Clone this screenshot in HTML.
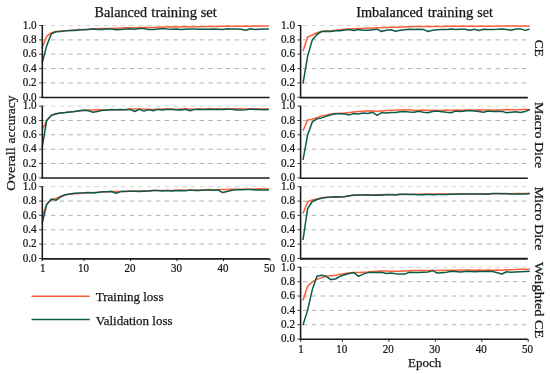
<!DOCTYPE html>
<html lang="en"><head><meta charset="utf-8"><title>Training curves</title>
<style>html,body{margin:0;padding:0;background:#fff}svg{display:block}</style></head>
<body>
<svg width="550" height="374" viewBox="0 0 550 374" font-family="'Liberation Serif', serif" fill="#161616" stroke="#161616" stroke-width="0.25">
<rect width="550" height="374" fill="#fff" stroke="none"/>
<line x1="42.1" y1="82.9" x2="269.2" y2="82.9" stroke="#b2b2b2" stroke-width="1" stroke-dasharray="4.4 4.35"/>
<line x1="42.1" y1="68.6" x2="269.2" y2="68.6" stroke="#b2b2b2" stroke-width="1" stroke-dasharray="4.4 4.35"/>
<line x1="42.1" y1="54.2" x2="269.2" y2="54.2" stroke="#b2b2b2" stroke-width="1" stroke-dasharray="4.4 4.35"/>
<line x1="42.1" y1="39.9" x2="269.2" y2="39.9" stroke="#b2b2b2" stroke-width="1" stroke-dasharray="4.4 4.35"/>
<line x1="42.1" y1="25.5" x2="269.2" y2="25.5" stroke="#d6d6d6" stroke-width="1" stroke-dasharray="4.4 4.35"/>
<polyline points="42.1,48.0 46.7,36.3 51.4,32.7 56.0,31.5 60.6,30.9 65.2,30.8 69.9,30.4 74.5,29.9 79.1,29.6 83.8,29.4 88.4,29.2 93.0,28.8 97.6,28.7 102.3,28.6 106.9,28.6 111.5,28.4 116.1,28.2 120.8,28.0 125.4,27.8 130.0,27.7 134.7,27.7 139.3,27.6 143.9,27.5 148.5,27.5 153.2,27.4 157.8,27.2 162.4,27.1 167.1,27.1 171.7,26.8 176.3,26.9 180.9,26.8 185.6,26.8 190.2,26.8 194.8,26.7 199.5,26.7 204.1,26.5 208.7,26.4 213.3,26.4 218.0,26.5 222.6,26.3 227.2,26.3 231.8,26.2 236.5,26.2 241.1,26.2 245.7,26.1 250.4,26.2 255.0,26.0 259.6,25.9 264.2,26.1 268.9,25.9" fill="none" stroke="#fd6038" stroke-width="1.5" stroke-linejoin="round" stroke-linecap="butt"/>
<polyline points="42.1,63.2 46.7,45.6 51.4,33.8 56.0,31.8 60.6,31.6 65.2,30.8 69.9,30.5 74.5,30.6 79.1,30.0 83.8,29.8 88.4,29.4 93.0,29.0 97.6,29.5 102.3,29.6 106.9,28.8 111.5,29.1 116.1,29.8 120.8,29.4 125.4,29.0 130.0,28.8 134.7,29.2 139.3,28.6 143.9,28.6 148.5,29.4 153.2,29.4 157.8,28.9 162.4,28.6 167.1,29.1 171.7,29.2 176.3,29.1 180.9,29.4 185.6,29.2 190.2,29.1 194.8,29.0 199.5,29.2 204.1,29.3 208.7,29.3 213.3,29.1 218.0,29.2 222.6,29.5 227.2,28.8 231.8,29.0 236.5,28.9 241.1,29.3 245.7,30.2 250.4,28.8 255.0,29.4 259.6,29.2 264.2,28.9 268.9,28.9" fill="none" stroke="#0c5a4c" stroke-width="1.5" stroke-linejoin="round" stroke-linecap="butt"/>
<line x1="42.3" y1="25.0" x2="42.3" y2="98.0" stroke="#1a1a1a" stroke-width="1.55"/>
<line x1="41.5" y1="97.40" x2="269.6" y2="97.40" stroke="#1a1a1a" stroke-width="1.55"/>
<line x1="39.1" y1="97.3" x2="42.3" y2="97.3" stroke="#2a2a2a" stroke-width="0.9"/>
<text transform="translate(36.7,100.5) scale(0.94,1)" font-size="11.9" text-anchor="end">0.0</text>
<line x1="39.1" y1="82.9" x2="42.3" y2="82.9" stroke="#2a2a2a" stroke-width="0.9"/>
<text transform="translate(36.7,86.1) scale(0.94,1)" font-size="11.9" text-anchor="end">0.2</text>
<line x1="39.1" y1="68.6" x2="42.3" y2="68.6" stroke="#2a2a2a" stroke-width="0.9"/>
<text transform="translate(36.7,71.8) scale(0.94,1)" font-size="11.9" text-anchor="end">0.4</text>
<line x1="39.1" y1="54.2" x2="42.3" y2="54.2" stroke="#2a2a2a" stroke-width="0.9"/>
<text transform="translate(36.7,57.4) scale(0.94,1)" font-size="11.9" text-anchor="end">0.6</text>
<line x1="39.1" y1="39.9" x2="42.3" y2="39.9" stroke="#2a2a2a" stroke-width="0.9"/>
<text transform="translate(36.7,43.1) scale(0.94,1)" font-size="11.9" text-anchor="end">0.8</text>
<line x1="39.1" y1="25.5" x2="42.3" y2="25.5" stroke="#2a2a2a" stroke-width="0.9"/>
<text transform="translate(36.7,28.7) scale(0.94,1)" font-size="11.9" text-anchor="end">1.0</text>
<line x1="42.1" y1="163.5" x2="269.2" y2="163.5" stroke="#b2b2b2" stroke-width="1" stroke-dasharray="4.4 4.35"/>
<line x1="42.1" y1="149.2" x2="269.2" y2="149.2" stroke="#b2b2b2" stroke-width="1" stroke-dasharray="4.4 4.35"/>
<line x1="42.1" y1="134.8" x2="269.2" y2="134.8" stroke="#b2b2b2" stroke-width="1" stroke-dasharray="4.4 4.35"/>
<line x1="42.1" y1="120.5" x2="269.2" y2="120.5" stroke="#b2b2b2" stroke-width="1" stroke-dasharray="4.4 4.35"/>
<line x1="42.1" y1="106.1" x2="269.2" y2="106.1" stroke="#d6d6d6" stroke-width="1" stroke-dasharray="4.4 4.35"/>
<polyline points="42.1,129.8 46.7,120.5 51.4,115.6 56.0,113.8 60.6,113.1 65.2,112.6 69.9,111.9 74.5,111.5 79.1,111.0 83.8,110.3 88.4,109.9 93.0,109.9 97.6,109.8 102.3,110.0 106.9,109.7 111.5,109.7 116.1,109.7 120.8,109.7 125.4,109.6 130.0,109.1 134.7,109.1 139.3,109.1 143.9,109.1 148.5,109.4 153.2,109.4 157.8,109.2 162.4,109.1 167.1,109.0 171.7,109.0 176.3,109.4 180.9,109.1 185.6,109.0 190.2,109.1 194.8,109.3 199.5,109.1 204.1,109.3 208.7,108.8 213.3,108.8 218.0,109.0 222.6,109.1 227.2,108.7 231.8,108.9 236.5,108.7 241.1,108.7 245.7,108.9 250.4,108.9 255.0,108.8 259.6,108.9 264.2,109.0 268.9,108.9" fill="none" stroke="#fd6038" stroke-width="1.5" stroke-linejoin="round" stroke-linecap="butt"/>
<polyline points="42.1,147.7 46.7,120.5 51.4,115.3 56.0,113.8 60.6,112.9 65.2,112.6 69.9,111.9 74.5,111.5 79.1,110.8 83.8,110.3 88.4,110.7 93.0,112.2 97.6,111.5 102.3,110.3 106.9,110.2 111.5,109.5 116.1,109.8 120.8,109.4 125.4,109.7 130.0,109.4 134.7,111.5 139.3,109.4 143.9,111.1 148.5,109.5 153.2,110.8 157.8,109.4 162.4,109.9 167.1,109.3 171.7,109.5 176.3,109.7 180.9,110.0 185.6,109.2 190.2,110.8 194.8,109.4 199.5,109.2 204.1,109.4 208.7,109.2 213.3,109.6 218.0,109.3 222.6,109.6 227.2,109.2 231.8,109.2 236.5,109.9 241.1,109.9 245.7,109.8 250.4,109.1 255.0,109.6 259.6,109.4 264.2,109.7 268.9,109.5" fill="none" stroke="#0c5a4c" stroke-width="1.5" stroke-linejoin="round" stroke-linecap="butt"/>
<line x1="42.3" y1="105.6" x2="42.3" y2="178.6" stroke="#1a1a1a" stroke-width="1.55"/>
<line x1="41.5" y1="177.90" x2="269.6" y2="177.90" stroke="#1a1a1a" stroke-width="1.55"/>
<line x1="39.1" y1="177.9" x2="42.3" y2="177.9" stroke="#2a2a2a" stroke-width="0.9"/>
<text transform="translate(36.7,181.1) scale(0.94,1)" font-size="11.9" text-anchor="end">0.0</text>
<line x1="39.1" y1="163.5" x2="42.3" y2="163.5" stroke="#2a2a2a" stroke-width="0.9"/>
<text transform="translate(36.7,166.7) scale(0.94,1)" font-size="11.9" text-anchor="end">0.2</text>
<line x1="39.1" y1="149.2" x2="42.3" y2="149.2" stroke="#2a2a2a" stroke-width="0.9"/>
<text transform="translate(36.7,152.4) scale(0.94,1)" font-size="11.9" text-anchor="end">0.4</text>
<line x1="39.1" y1="134.8" x2="42.3" y2="134.8" stroke="#2a2a2a" stroke-width="0.9"/>
<text transform="translate(36.7,138.0) scale(0.94,1)" font-size="11.9" text-anchor="end">0.6</text>
<line x1="39.1" y1="120.5" x2="42.3" y2="120.5" stroke="#2a2a2a" stroke-width="0.9"/>
<text transform="translate(36.7,123.7) scale(0.94,1)" font-size="11.9" text-anchor="end">0.8</text>
<line x1="39.1" y1="106.1" x2="42.3" y2="106.1" stroke="#2a2a2a" stroke-width="0.9"/>
<text transform="translate(36.7,109.3) scale(0.94,1)" font-size="11.9" text-anchor="end">1.0</text>
<line x1="42.1" y1="244.1" x2="269.2" y2="244.1" stroke="#b2b2b2" stroke-width="1" stroke-dasharray="4.4 4.35"/>
<line x1="42.1" y1="229.8" x2="269.2" y2="229.8" stroke="#b2b2b2" stroke-width="1" stroke-dasharray="4.4 4.35"/>
<line x1="42.1" y1="215.4" x2="269.2" y2="215.4" stroke="#b2b2b2" stroke-width="1" stroke-dasharray="4.4 4.35"/>
<line x1="42.1" y1="201.1" x2="269.2" y2="201.1" stroke="#b2b2b2" stroke-width="1" stroke-dasharray="4.4 4.35"/>
<line x1="42.1" y1="186.7" x2="269.2" y2="186.7" stroke="#d6d6d6" stroke-width="1" stroke-dasharray="4.4 4.35"/>
<polyline points="42.1,216.9 46.7,203.9 51.4,200.0 56.0,198.5 60.6,196.5 65.2,194.8 69.9,194.3 74.5,193.8 79.1,193.6 83.8,192.9 88.4,192.8 93.0,192.4 97.6,192.3 102.3,191.9 106.9,191.8 111.5,191.5 116.1,191.4 120.8,191.4 125.4,191.3 130.0,191.1 134.7,191.2 139.3,190.9 143.9,190.7 148.5,190.9 153.2,190.5 157.8,190.5 162.4,190.4 167.1,190.5 171.7,190.5 176.3,190.2 180.9,190.1 185.6,190.2 190.2,190.2 194.8,190.1 199.5,189.9 204.1,189.9 208.7,189.6 213.3,189.7 218.0,189.8 222.6,189.5 227.2,189.6 231.8,189.2 236.5,189.2 241.1,189.3 245.7,189.2 250.4,189.1 255.0,188.9 259.6,188.8 264.2,189.1 268.9,188.9" fill="none" stroke="#fd6038" stroke-width="1.5" stroke-linejoin="round" stroke-linecap="butt"/>
<polyline points="42.1,223.3 46.7,204.6 51.4,198.9 56.0,200.3 60.6,196.8 65.2,194.8 69.9,194.0 74.5,193.3 79.1,193.0 83.8,192.8 88.4,192.5 93.0,192.9 97.6,192.4 102.3,191.8 106.9,191.8 111.5,191.5 116.1,193.2 120.8,191.6 125.4,191.6 130.0,191.3 134.7,191.2 139.3,191.5 143.9,191.2 148.5,191.1 153.2,190.5 157.8,190.6 162.4,190.9 167.1,190.4 171.7,190.9 176.3,190.5 180.9,190.8 185.6,190.8 190.2,190.1 194.8,190.6 199.5,190.5 204.1,189.9 208.7,190.0 213.3,190.3 218.0,189.8 222.6,192.6 227.2,191.4 231.8,190.2 236.5,189.7 241.1,189.8 245.7,189.6 250.4,189.6 255.0,190.0 259.6,189.9 264.2,190.0 268.9,190.0" fill="none" stroke="#0c5a4c" stroke-width="1.5" stroke-linejoin="round" stroke-linecap="butt"/>
<line x1="42.3" y1="186.2" x2="42.3" y2="259.2" stroke="#1a1a1a" stroke-width="1.55"/>
<line x1="41.5" y1="258.75" x2="269.6" y2="258.75" stroke="#1a1a1a" stroke-width="1.75"/>
<line x1="39.1" y1="258.5" x2="42.3" y2="258.5" stroke="#2a2a2a" stroke-width="0.9"/>
<text transform="translate(36.7,261.7) scale(0.94,1)" font-size="11.9" text-anchor="end">0.0</text>
<line x1="39.1" y1="244.1" x2="42.3" y2="244.1" stroke="#2a2a2a" stroke-width="0.9"/>
<text transform="translate(36.7,247.3) scale(0.94,1)" font-size="11.9" text-anchor="end">0.2</text>
<line x1="39.1" y1="229.8" x2="42.3" y2="229.8" stroke="#2a2a2a" stroke-width="0.9"/>
<text transform="translate(36.7,233.0) scale(0.94,1)" font-size="11.9" text-anchor="end">0.4</text>
<line x1="39.1" y1="215.4" x2="42.3" y2="215.4" stroke="#2a2a2a" stroke-width="0.9"/>
<text transform="translate(36.7,218.6) scale(0.94,1)" font-size="11.9" text-anchor="end">0.6</text>
<line x1="39.1" y1="201.1" x2="42.3" y2="201.1" stroke="#2a2a2a" stroke-width="0.9"/>
<text transform="translate(36.7,204.3) scale(0.94,1)" font-size="11.9" text-anchor="end">0.8</text>
<line x1="39.1" y1="186.7" x2="42.3" y2="186.7" stroke="#2a2a2a" stroke-width="0.9"/>
<text transform="translate(36.7,189.9) scale(0.94,1)" font-size="11.9" text-anchor="end">1.0</text>
<line x1="42.3" y1="258.5" x2="42.3" y2="261.1" stroke="#1a1a1a" stroke-width="1"/>
<text transform="translate(42.7,272.1) scale(0.93,1)" font-size="11.8" text-anchor="middle">1</text>
<line x1="84.1" y1="258.5" x2="84.1" y2="261.1" stroke="#1a1a1a" stroke-width="1"/>
<text transform="translate(83.5,272.1) scale(0.93,1)" font-size="11.8" text-anchor="middle">10</text>
<line x1="130.6" y1="258.5" x2="130.6" y2="261.1" stroke="#1a1a1a" stroke-width="1"/>
<text transform="translate(130.0,272.1) scale(0.93,1)" font-size="11.8" text-anchor="middle">20</text>
<line x1="177.1" y1="258.5" x2="177.1" y2="261.1" stroke="#1a1a1a" stroke-width="1"/>
<text transform="translate(176.5,272.1) scale(0.93,1)" font-size="11.8" text-anchor="middle">30</text>
<line x1="223.5" y1="258.5" x2="223.5" y2="261.1" stroke="#1a1a1a" stroke-width="1"/>
<text transform="translate(222.9,272.1) scale(0.93,1)" font-size="11.8" text-anchor="middle">40</text>
<line x1="270.0" y1="258.5" x2="270.0" y2="261.1" stroke="#1a1a1a" stroke-width="1"/>
<text transform="translate(269.4,272.1) scale(0.93,1)" font-size="11.8" text-anchor="middle">50</text>
<line x1="303.0" y1="82.9" x2="527.4" y2="82.9" stroke="#b2b2b2" stroke-width="1" stroke-dasharray="4.4 4.35"/>
<line x1="303.0" y1="68.6" x2="527.4" y2="68.6" stroke="#b2b2b2" stroke-width="1" stroke-dasharray="4.4 4.35"/>
<line x1="303.0" y1="54.2" x2="527.4" y2="54.2" stroke="#b2b2b2" stroke-width="1" stroke-dasharray="4.4 4.35"/>
<line x1="303.0" y1="39.9" x2="527.4" y2="39.9" stroke="#b2b2b2" stroke-width="1" stroke-dasharray="4.4 4.35"/>
<line x1="303.0" y1="25.5" x2="527.4" y2="25.5" stroke="#d6d6d6" stroke-width="1" stroke-dasharray="4.4 4.35"/>
<polyline points="303.0,51.3 307.6,37.0 312.3,35.0 316.9,32.8 321.5,31.5 326.1,31.1 330.8,30.7 335.4,30.2 340.0,29.8 344.7,29.3 349.3,29.0 353.9,28.8 358.5,28.5 363.2,28.3 367.8,28.0 372.4,27.9 377.0,27.7 381.7,27.6 386.3,27.4 390.9,27.3 395.6,27.2 400.2,27.0 404.8,26.9 409.4,26.8 414.1,26.6 418.7,26.6 423.3,26.6 428.0,26.5 432.6,26.5 437.2,26.4 441.8,26.4 446.5,26.3 451.1,26.3 455.7,26.3 460.4,26.2 465.0,26.2 469.6,26.2 474.2,26.2 478.9,26.2 483.5,26.2 488.1,26.2 492.7,26.2 497.4,26.1 502.0,26.1 506.6,26.1 511.3,26.1 515.9,26.1 520.5,26.1 525.1,26.1 529.8,26.1" fill="none" stroke="#fd6038" stroke-width="1.5" stroke-linejoin="round" stroke-linecap="butt"/>
<polyline points="303.0,83.7 307.6,56.4 312.3,39.9 316.9,34.5 321.5,31.5 326.1,31.2 330.8,31.4 335.4,30.7 340.0,30.7 344.7,30.0 349.3,29.4 353.9,30.5 358.5,29.4 363.2,30.2 367.8,30.2 372.4,29.7 377.0,29.2 381.7,31.5 386.3,30.2 390.9,29.8 395.6,31.2 400.2,30.3 404.8,29.8 409.4,29.3 414.1,29.4 418.7,29.2 423.3,29.4 428.0,31.5 432.6,30.2 437.2,29.8 441.8,29.4 446.5,29.5 451.1,29.1 455.7,29.5 460.4,29.2 465.0,29.3 469.6,30.2 474.2,29.2 478.9,30.4 483.5,29.3 488.1,29.5 492.7,29.5 497.4,29.3 502.0,29.0 506.6,29.5 511.3,30.2 515.9,29.1 520.5,28.9 525.1,30.4 529.8,29.1" fill="none" stroke="#0c5a4c" stroke-width="1.5" stroke-linejoin="round" stroke-linecap="butt"/>
<line x1="300.6" y1="25.0" x2="300.6" y2="98.0" stroke="#1a1a1a" stroke-width="1.55"/>
<line x1="299.8" y1="97.60" x2="527.8" y2="97.60" stroke="#1a1a1a" stroke-width="1.65"/>
<line x1="297.4" y1="97.3" x2="300.6" y2="97.3" stroke="#2a2a2a" stroke-width="0.9"/>
<text transform="translate(295.0,100.5) scale(0.94,1)" font-size="11.9" text-anchor="end">0.0</text>
<line x1="297.4" y1="82.9" x2="300.6" y2="82.9" stroke="#2a2a2a" stroke-width="0.9"/>
<text transform="translate(295.0,86.1) scale(0.94,1)" font-size="11.9" text-anchor="end">0.2</text>
<line x1="297.4" y1="68.6" x2="300.6" y2="68.6" stroke="#2a2a2a" stroke-width="0.9"/>
<text transform="translate(295.0,71.8) scale(0.94,1)" font-size="11.9" text-anchor="end">0.4</text>
<line x1="297.4" y1="54.2" x2="300.6" y2="54.2" stroke="#2a2a2a" stroke-width="0.9"/>
<text transform="translate(295.0,57.4) scale(0.94,1)" font-size="11.9" text-anchor="end">0.6</text>
<line x1="297.4" y1="39.9" x2="300.6" y2="39.9" stroke="#2a2a2a" stroke-width="0.9"/>
<text transform="translate(295.0,43.1) scale(0.94,1)" font-size="11.9" text-anchor="end">0.8</text>
<line x1="297.4" y1="25.5" x2="300.6" y2="25.5" stroke="#2a2a2a" stroke-width="0.9"/>
<text transform="translate(295.0,28.7) scale(0.94,1)" font-size="11.9" text-anchor="end">1.0</text>
<line x1="303.0" y1="163.5" x2="527.4" y2="163.5" stroke="#b2b2b2" stroke-width="1" stroke-dasharray="4.4 4.35"/>
<line x1="303.0" y1="149.2" x2="527.4" y2="149.2" stroke="#b2b2b2" stroke-width="1" stroke-dasharray="4.4 4.35"/>
<line x1="303.0" y1="134.8" x2="527.4" y2="134.8" stroke="#b2b2b2" stroke-width="1" stroke-dasharray="4.4 4.35"/>
<line x1="303.0" y1="120.5" x2="527.4" y2="120.5" stroke="#b2b2b2" stroke-width="1" stroke-dasharray="4.4 4.35"/>
<line x1="303.0" y1="106.1" x2="527.4" y2="106.1" stroke="#d6d6d6" stroke-width="1" stroke-dasharray="4.4 4.35"/>
<polyline points="303.0,130.7 307.6,120.1 312.3,119.2 316.9,117.6 321.5,115.9 326.1,115.3 330.8,114.1 335.4,113.5 340.0,113.3 344.7,113.1 349.3,112.5 353.9,112.0 358.5,111.6 363.2,111.2 367.8,110.8 372.4,111.1 377.0,111.3 381.7,110.9 386.3,110.6 390.9,110.2 395.6,110.1 400.2,109.9 404.8,109.8 409.4,109.7 414.1,110.4 418.7,110.6 423.3,110.1 428.0,110.6 432.6,110.3 437.2,110.6 441.8,110.5 446.5,110.0 451.1,110.4 455.7,110.1 460.4,110.2 465.0,110.1 469.6,110.1 474.2,110.2 478.9,109.8 483.5,110.1 488.1,110.0 492.7,110.1 497.4,109.9 502.0,109.8 506.6,109.5 511.3,109.7 515.9,109.8 520.5,109.7 525.1,109.2 529.8,109.7" fill="none" stroke="#fd6038" stroke-width="1.5" stroke-linejoin="round" stroke-linecap="butt"/>
<polyline points="303.0,159.8 307.6,135.1 312.3,121.9 316.9,118.8 321.5,117.9 326.1,116.4 330.8,114.7 335.4,113.7 340.0,113.7 344.7,114.0 349.3,114.9 353.9,113.5 358.5,114.1 363.2,113.1 367.8,113.5 372.4,112.2 377.0,115.3 381.7,112.6 386.3,113.1 390.9,112.4 395.6,112.4 400.2,111.7 404.8,111.5 409.4,112.0 414.1,112.2 418.7,111.3 423.3,112.2 428.0,112.7 432.6,111.6 437.2,111.1 441.8,111.7 446.5,112.3 451.1,112.7 455.7,111.1 460.4,111.5 465.0,111.1 469.6,110.6 474.2,111.0 478.9,111.6 483.5,112.2 488.1,111.1 492.7,111.5 497.4,111.3 502.0,111.4 506.6,112.7 511.3,112.2 515.9,111.7 520.5,112.6 525.1,111.6 529.8,109.5" fill="none" stroke="#0c5a4c" stroke-width="1.5" stroke-linejoin="round" stroke-linecap="butt"/>
<line x1="300.6" y1="105.6" x2="300.6" y2="178.6" stroke="#1a1a1a" stroke-width="1.55"/>
<line x1="299.8" y1="178.25" x2="527.8" y2="178.25" stroke="#1a1a1a" stroke-width="1.55"/>
<line x1="297.4" y1="177.9" x2="300.6" y2="177.9" stroke="#2a2a2a" stroke-width="0.9"/>
<text transform="translate(295.0,181.1) scale(0.94,1)" font-size="11.9" text-anchor="end">0.0</text>
<line x1="297.4" y1="163.5" x2="300.6" y2="163.5" stroke="#2a2a2a" stroke-width="0.9"/>
<text transform="translate(295.0,166.7) scale(0.94,1)" font-size="11.9" text-anchor="end">0.2</text>
<line x1="297.4" y1="149.2" x2="300.6" y2="149.2" stroke="#2a2a2a" stroke-width="0.9"/>
<text transform="translate(295.0,152.4) scale(0.94,1)" font-size="11.9" text-anchor="end">0.4</text>
<line x1="297.4" y1="134.8" x2="300.6" y2="134.8" stroke="#2a2a2a" stroke-width="0.9"/>
<text transform="translate(295.0,138.0) scale(0.94,1)" font-size="11.9" text-anchor="end">0.6</text>
<line x1="297.4" y1="120.5" x2="300.6" y2="120.5" stroke="#2a2a2a" stroke-width="0.9"/>
<text transform="translate(295.0,123.7) scale(0.94,1)" font-size="11.9" text-anchor="end">0.8</text>
<line x1="297.4" y1="106.1" x2="300.6" y2="106.1" stroke="#2a2a2a" stroke-width="0.9"/>
<text transform="translate(295.0,109.3) scale(0.94,1)" font-size="11.9" text-anchor="end">1.0</text>
<line x1="303.0" y1="244.1" x2="527.4" y2="244.1" stroke="#b2b2b2" stroke-width="1" stroke-dasharray="4.4 4.35"/>
<line x1="303.0" y1="229.8" x2="527.4" y2="229.8" stroke="#b2b2b2" stroke-width="1" stroke-dasharray="4.4 4.35"/>
<line x1="303.0" y1="215.4" x2="527.4" y2="215.4" stroke="#b2b2b2" stroke-width="1" stroke-dasharray="4.4 4.35"/>
<line x1="303.0" y1="201.1" x2="527.4" y2="201.1" stroke="#b2b2b2" stroke-width="1" stroke-dasharray="4.4 4.35"/>
<line x1="303.0" y1="186.7" x2="527.4" y2="186.7" stroke="#d6d6d6" stroke-width="1" stroke-dasharray="4.4 4.35"/>
<polyline points="303.0,213.6 307.6,201.8 312.3,200.0 316.9,198.9 321.5,197.8 326.1,197.3 330.8,197.2 335.4,197.0 340.0,196.9 344.7,196.6 349.3,195.8 353.9,195.1 358.5,195.1 363.2,195.0 367.8,194.9 372.4,194.9 377.0,194.7 381.7,194.6 386.3,194.8 390.9,194.6 395.6,194.6 400.2,194.5 404.8,194.5 409.4,194.3 414.1,194.3 418.7,194.2 423.3,194.1 428.0,194.2 432.6,194.0 437.2,193.9 441.8,193.9 446.5,194.0 451.1,194.1 455.7,194.1 460.4,194.0 465.0,193.8 469.6,193.9 474.2,193.9 478.9,193.7 483.5,193.8 488.1,193.7 492.7,193.7 497.4,193.8 502.0,193.6 506.6,193.5 511.3,193.7 515.9,193.6 520.5,193.5 525.1,193.6 529.8,193.5" fill="none" stroke="#fd6038" stroke-width="1.5" stroke-linejoin="round" stroke-linecap="butt"/>
<polyline points="303.0,240.0 307.6,208.7 312.3,201.5 316.9,199.5 321.5,198.2 326.1,197.4 330.8,197.1 335.4,196.7 340.0,196.9 344.7,196.7 349.3,195.8 353.9,195.3 358.5,195.1 363.2,195.0 367.8,194.8 372.4,195.3 377.0,195.1 381.7,195.2 386.3,194.6 390.9,194.7 395.6,195.1 400.2,194.3 404.8,194.3 409.4,194.4 414.1,194.4 418.7,194.7 423.3,194.7 428.0,194.3 432.6,194.7 437.2,194.5 441.8,194.5 446.5,194.6 451.1,194.3 455.7,194.2 460.4,193.9 465.0,194.1 469.6,194.0 474.2,194.1 478.9,193.9 483.5,194.1 488.1,194.2 492.7,193.6 497.4,193.6 502.0,193.7 506.6,193.7 511.3,194.0 515.9,194.0 520.5,193.9 525.1,194.1 529.8,193.5" fill="none" stroke="#0c5a4c" stroke-width="1.5" stroke-linejoin="round" stroke-linecap="butt"/>
<line x1="300.6" y1="186.2" x2="300.6" y2="259.2" stroke="#1a1a1a" stroke-width="1.55"/>
<line x1="299.8" y1="258.80" x2="527.8" y2="258.80" stroke="#1a1a1a" stroke-width="2.1"/>
<line x1="297.4" y1="258.5" x2="300.6" y2="258.5" stroke="#2a2a2a" stroke-width="0.9"/>
<text transform="translate(295.0,261.7) scale(0.94,1)" font-size="11.9" text-anchor="end">0.0</text>
<line x1="297.4" y1="244.1" x2="300.6" y2="244.1" stroke="#2a2a2a" stroke-width="0.9"/>
<text transform="translate(295.0,247.3) scale(0.94,1)" font-size="11.9" text-anchor="end">0.2</text>
<line x1="297.4" y1="229.8" x2="300.6" y2="229.8" stroke="#2a2a2a" stroke-width="0.9"/>
<text transform="translate(295.0,233.0) scale(0.94,1)" font-size="11.9" text-anchor="end">0.4</text>
<line x1="297.4" y1="215.4" x2="300.6" y2="215.4" stroke="#2a2a2a" stroke-width="0.9"/>
<text transform="translate(295.0,218.6) scale(0.94,1)" font-size="11.9" text-anchor="end">0.6</text>
<line x1="297.4" y1="201.1" x2="300.6" y2="201.1" stroke="#2a2a2a" stroke-width="0.9"/>
<text transform="translate(295.0,204.3) scale(0.94,1)" font-size="11.9" text-anchor="end">0.8</text>
<line x1="297.4" y1="186.7" x2="300.6" y2="186.7" stroke="#2a2a2a" stroke-width="0.9"/>
<text transform="translate(295.0,189.9) scale(0.94,1)" font-size="11.9" text-anchor="end">1.0</text>
<line x1="303.0" y1="324.7" x2="527.4" y2="324.7" stroke="#b2b2b2" stroke-width="1" stroke-dasharray="4.4 4.35"/>
<line x1="303.0" y1="310.4" x2="527.4" y2="310.4" stroke="#b2b2b2" stroke-width="1" stroke-dasharray="4.4 4.35"/>
<line x1="303.0" y1="296.0" x2="527.4" y2="296.0" stroke="#b2b2b2" stroke-width="1" stroke-dasharray="4.4 4.35"/>
<line x1="303.0" y1="281.7" x2="527.4" y2="281.7" stroke="#b2b2b2" stroke-width="1" stroke-dasharray="4.4 4.35"/>
<line x1="303.0" y1="267.3" x2="527.4" y2="267.3" stroke="#d6d6d6" stroke-width="1" stroke-dasharray="4.4 4.35"/>
<polyline points="303.0,300.5 307.6,286.2 312.3,281.9 316.9,279.2 321.5,277.9 326.1,276.3 330.8,275.7 335.4,275.2 340.0,274.3 344.7,273.5 349.3,273.0 353.9,272.6 358.5,272.4 363.2,272.2 367.8,272.0 372.4,271.6 377.0,271.2 381.7,270.9 386.3,271.1 390.9,271.2 395.6,271.2 400.2,271.2 404.8,271.0 409.4,270.8 414.1,270.5 418.7,270.5 423.3,270.4 428.0,270.4 432.6,270.5 437.2,270.5 441.8,270.4 446.5,270.3 451.1,270.2 455.7,270.2 460.4,270.1 465.0,270.1 469.6,270.1 474.2,270.2 478.9,270.1 483.5,270.2 488.1,270.0 492.7,270.2 497.4,270.0 502.0,270.2 506.6,269.8 511.3,269.7 515.9,269.6 520.5,269.3 525.1,269.3 529.8,269.1" fill="none" stroke="#fd6038" stroke-width="1.5" stroke-linejoin="round" stroke-linecap="butt"/>
<polyline points="303.0,325.1 307.6,310.4 312.3,289.6 316.9,276.3 321.5,275.2 326.1,276.3 330.8,279.6 335.4,279.0 340.0,276.3 344.7,274.8 349.3,273.5 353.9,272.6 358.5,276.3 363.2,274.1 367.8,272.6 372.4,272.4 377.0,272.4 381.7,272.2 386.3,273.5 390.9,273.0 395.6,273.7 400.2,273.9 404.8,274.1 409.4,272.2 414.1,272.6 418.7,272.4 423.3,272.2 428.0,272.0 432.6,270.6 437.2,273.1 441.8,272.7 446.5,272.3 451.1,271.2 455.7,271.6 460.4,271.9 465.0,271.6 469.6,271.2 474.2,271.8 478.9,271.6 483.5,271.5 488.1,271.2 492.7,271.6 497.4,272.7 502.0,274.0 506.6,271.8 511.3,272.3 515.9,272.0 520.5,271.8 525.1,271.5 529.8,271.2" fill="none" stroke="#0c5a4c" stroke-width="1.5" stroke-linejoin="round" stroke-linecap="butt"/>
<line x1="300.6" y1="266.8" x2="300.6" y2="339.8" stroke="#1a1a1a" stroke-width="1.55"/>
<line x1="299.8" y1="339.20" x2="527.8" y2="339.20" stroke="#1a1a1a" stroke-width="1.6"/>
<line x1="297.4" y1="339.1" x2="300.6" y2="339.1" stroke="#2a2a2a" stroke-width="0.9"/>
<text transform="translate(295.0,342.3) scale(0.94,1)" font-size="11.9" text-anchor="end">0.0</text>
<line x1="297.4" y1="324.7" x2="300.6" y2="324.7" stroke="#2a2a2a" stroke-width="0.9"/>
<text transform="translate(295.0,327.9) scale(0.94,1)" font-size="11.9" text-anchor="end">0.2</text>
<line x1="297.4" y1="310.4" x2="300.6" y2="310.4" stroke="#2a2a2a" stroke-width="0.9"/>
<text transform="translate(295.0,313.6) scale(0.94,1)" font-size="11.9" text-anchor="end">0.4</text>
<line x1="297.4" y1="296.0" x2="300.6" y2="296.0" stroke="#2a2a2a" stroke-width="0.9"/>
<text transform="translate(295.0,299.2) scale(0.94,1)" font-size="11.9" text-anchor="end">0.6</text>
<line x1="297.4" y1="281.7" x2="300.6" y2="281.7" stroke="#2a2a2a" stroke-width="0.9"/>
<text transform="translate(295.0,284.9) scale(0.94,1)" font-size="11.9" text-anchor="end">0.8</text>
<line x1="297.4" y1="267.3" x2="300.6" y2="267.3" stroke="#2a2a2a" stroke-width="0.9"/>
<text transform="translate(295.0,270.5) scale(0.94,1)" font-size="11.9" text-anchor="end">1.0</text>
<line x1="300.6" y1="339.1" x2="300.6" y2="341.7" stroke="#1a1a1a" stroke-width="1"/>
<text transform="translate(301.0,352.7) scale(0.93,1)" font-size="11.8" text-anchor="middle">1</text>
<line x1="342.4" y1="339.1" x2="342.4" y2="341.7" stroke="#1a1a1a" stroke-width="1"/>
<text transform="translate(341.8,352.7) scale(0.93,1)" font-size="11.8" text-anchor="middle">10</text>
<line x1="388.9" y1="339.1" x2="388.9" y2="341.7" stroke="#1a1a1a" stroke-width="1"/>
<text transform="translate(388.3,352.7) scale(0.93,1)" font-size="11.8" text-anchor="middle">20</text>
<line x1="435.3" y1="339.1" x2="435.3" y2="341.7" stroke="#1a1a1a" stroke-width="1"/>
<text transform="translate(434.7,352.7) scale(0.93,1)" font-size="11.8" text-anchor="middle">30</text>
<line x1="481.8" y1="339.1" x2="481.8" y2="341.7" stroke="#1a1a1a" stroke-width="1"/>
<text transform="translate(481.2,352.7) scale(0.93,1)" font-size="11.8" text-anchor="middle">40</text>
<line x1="528.2" y1="339.1" x2="528.2" y2="341.7" stroke="#1a1a1a" stroke-width="1"/>
<text transform="translate(527.6,352.7) scale(0.93,1)" font-size="11.8" text-anchor="middle">50</text>
<text y="16.6" font-size="13.7"><tspan x="94.6" textLength="52.4" lengthAdjust="spacingAndGlyphs">Balanced</tspan> <tspan x="151.3" textLength="45.7" lengthAdjust="spacingAndGlyphs">training</tspan> <tspan x="200.7" textLength="16.1" lengthAdjust="spacingAndGlyphs">set</tspan></text>
<text y="16.6" font-size="13.7"><tspan x="356.2" textLength="66.8" lengthAdjust="spacingAndGlyphs">Imbalanced</tspan> <tspan x="427.8" textLength="45.5" lengthAdjust="spacingAndGlyphs">training</tspan> <tspan x="477.3" textLength="15.6" lengthAdjust="spacingAndGlyphs">set</tspan></text>
<text transform="translate(14.6,191) rotate(-90)" y="0" font-size="13.4"><tspan x="0.2" textLength="43.7" lengthAdjust="spacingAndGlyphs">Overall</tspan> <tspan x="47.5" textLength="48.1" lengthAdjust="spacingAndGlyphs">accuracy</tspan></text>
<text x="424.7" y="367.4" font-size="13" text-anchor="middle">Epoch</text>
<text transform="translate(534.5,39.7) rotate(90)" font-size="13.4" textLength="17.1" lengthAdjust="spacingAndGlyphs">CE</text>
<text transform="translate(534.5,102.0) rotate(90)" font-size="13.4" textLength="66.3" lengthAdjust="spacingAndGlyphs">Macro Dice</text>
<text transform="translate(534.5,186.7) rotate(90)" font-size="13.4" textLength="63.7" lengthAdjust="spacingAndGlyphs">Micro Dice</text>
<text transform="translate(534.5,261.9) rotate(90)" font-size="13.4" textLength="76.4" lengthAdjust="spacingAndGlyphs">Weighted CE</text>
<line x1="31.5" y1="296.25" x2="89.7" y2="296.25" stroke="#fd6038" stroke-width="1.5"/>
<line x1="31.5" y1="319.55" x2="89.7" y2="319.55" stroke="#0c5a4c" stroke-width="1.45"/>
<text x="95.7" y="301.0" font-size="13">Training loss</text>
<text x="95.7" y="324.5" font-size="13">Validation loss</text>
</svg>
</body></html>
